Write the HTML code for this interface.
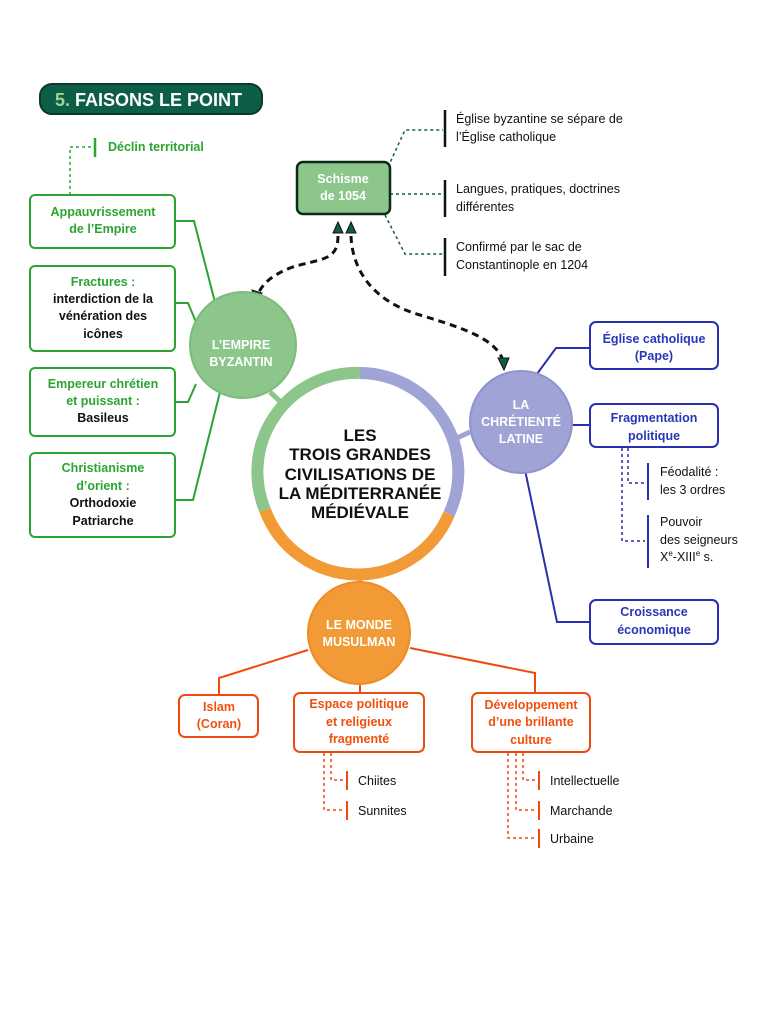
<!DOCTYPE html>
<html><head><meta charset="utf-8"><style>
html,body{margin:0;padding:0;background:#fff;}
svg{display:block;font-family:"Liberation Sans",sans-serif;}
.g{fill:#2ba532;font-weight:bold;font-size:12.5px;}
.b{fill:#2a36b8;font-weight:bold;font-size:12.5px;}
.o{fill:#f0500f;font-weight:bold;font-size:12.5px;}
.k{fill:#111;font-weight:bold;font-size:12.5px;}
.n{fill:#111;font-size:12.5px;}
.w{fill:#fff;font-weight:bold;font-size:12.5px;}
</style></head><body>
<svg width="768" height="1024" viewBox="0 0 768 1024" xmlns="http://www.w3.org/2000/svg">
<!-- title -->
<rect x="40" y="84" width="222" height="30" rx="12" fill="#0d5e46" stroke="#073a2b" stroke-width="2"/>
<text x="55" y="106" font-size="18" font-weight="bold" fill="#fff"><tspan fill="#9fd49a">5.</tspan> FAISONS LE POINT</text>

<!-- Déclin -->
<path d="M70 195 V147 H93" fill="none" stroke="#2ba532" stroke-width="1.5" stroke-dasharray="3,3"/>
<line x1="95" y1="138" x2="95" y2="157" stroke="#2ba532" stroke-width="2.5"/>
<text x="108" y="151" class="g">Déclin territorial</text>

<!-- green connectors -->
<g fill="none" stroke="#2ba532" stroke-width="2">
<path d="M175 221 H194 L217 310"/>
<path d="M175 303 H188 L196 322"/>
<path d="M175 402 H188 L196 384"/>
<path d="M175 500 H193 L220 392"/>
<line x1="270" y1="392" x2="285" y2="406" stroke="#8cc68a" stroke-width="5"/>
</g>
<g fill="#fff" stroke="#2ba532" stroke-width="2">
<rect x="30" y="195" width="145" height="53" rx="5"/>
<rect x="30" y="266" width="145" height="85" rx="5"/>
<rect x="30" y="368" width="145" height="68" rx="5"/>
<rect x="30" y="453" width="145" height="84" rx="5"/>
</g>
<g text-anchor="middle">
<text x="103" y="216" class="g">Appauvrissement</text>
<text x="103" y="233" class="g">de l’Empire</text>
<text x="103" y="286" class="g">Fractures :</text>
<text x="103" y="303" class="k">interdiction de la</text>
<text x="103" y="320" class="k">vénération des</text>
<text x="103" y="338" class="k">icônes</text>
<text x="103" y="388" class="g">Empereur chrétien</text>
<text x="103" y="405" class="g">et puissant :</text>
<text x="103" y="422" class="k">Basileus</text>
<text x="103" y="472" class="g">Christianisme</text>
<text x="103" y="490" class="g">d’orient :</text>
<text x="103" y="507" class="k">Orthodoxie</text>
<text x="103" y="525" class="k">Patriarche</text>
</g>

<!-- Schisme -->
<g fill="none" stroke="#0d5e46" stroke-width="1.5" stroke-dasharray="3,3">
<path d="M388 167 L405 130 H443"/>
<path d="M390 194 H443"/>
<path d="M385 215 L405 254 H443"/>
</g>
<rect x="297" y="162" width="93" height="52" rx="6" fill="#8dc68b" stroke="#0c2a1a" stroke-width="2.5"/>
<text x="343" y="183" text-anchor="middle" class="w" font-size="13">Schisme</text>
<text x="343" y="200" text-anchor="middle" class="w" font-size="13">de 1054</text>
<g stroke="#111" stroke-width="2.5">
<line x1="445" y1="110" x2="445" y2="147"/>
<line x1="445" y1="180" x2="445" y2="217"/>
<line x1="445" y1="238" x2="445" y2="276"/>
</g>
<text x="456" y="123" class="n">Église byzantine se sépare de</text>
<text x="456" y="141" class="n">l’Église catholique</text>
<text x="456" y="193" class="n">Langues, pratiques, doctrines</text>
<text x="456" y="211" class="n">différentes</text>
<text x="456" y="251" class="n">Confirmé par le sac de</text>
<text x="456" y="269" class="n">Constantinople en 1204</text>

<!-- dashed arrows -->
<g fill="none" stroke="#111" stroke-width="3" stroke-dasharray="7,5">
<path d="M338 236 C338 262 320 258 290 268 C270 276 262 285 258 294"/>
<path d="M351 236 C352 265 368 300 420 315 C470 330 495 340 503 360"/>
</g>
<g fill="#0d5e46" stroke="#111" stroke-width="1">
<polygon points="338,222 333,233 343,233"/>
<polygon points="351,222 346,233 356,233"/>
<polygon points="255,302 252,290 262,293"/>
<polygon points="504,370 498,358 509,358"/>
</g>

<!-- central ring -->
<g fill="none" stroke-width="12">
<path d="M360 373 A99 99 0 0 0 265 510" stroke="#8cc68a"/>
<path d="M360 373 A99 99 0 0 1 449 514" stroke="#9fa3d6"/>
<path d="M265 510 A99 99 0 0 0 449 514" stroke="#f29a35"/>
</g>
<g text-anchor="middle" font-weight="bold" font-size="17" fill="#111">
<text x="360" y="441">LES</text>
<text x="360" y="460">TROIS GRANDES</text>
<text x="360" y="480">CIVILISATIONS DE</text>
<text x="360" y="499">LA MÉDITERRANÉE</text>
<text x="360" y="518">MÉDIÉVALE</text>
</g>

<!-- Byzantine circle -->
<circle cx="243" cy="345" r="53" fill="#8cc68a" stroke="#7dbb7b" stroke-width="2"/>
<text x="241" y="349" text-anchor="middle" class="w">L’EMPIRE</text>
<text x="241" y="366" text-anchor="middle" class="w">BYZANTIN</text>

<!-- Latin -->
<g fill="none" stroke="#2a2fb0" stroke-width="2">
<path d="M537 374 L556 348 H590"/>
<path d="M572 425 H590"/>
<path d="M525 470 L557 622 H590"/>
<line x1="457" y1="438" x2="470" y2="432" stroke="#9fa3d6" stroke-width="5"/>
</g>
<g fill="none" stroke="#2a2fb0" stroke-width="1.5" stroke-dasharray="3,3">
<path d="M628 448 V483 H645"/>
<path d="M622 448 V541 H645"/>
</g>
<g stroke="#2a2fb0" stroke-width="2">
<line x1="648" y1="463" x2="648" y2="500"/>
<line x1="648" y1="515" x2="648" y2="568"/>
</g>
<text x="660" y="476" class="n">Féodalité :</text>
<text x="660" y="494" class="n">les 3 ordres</text>
<text x="660" y="526" class="n">Pouvoir</text>
<text x="660" y="544" class="n">des seigneurs</text>
<text x="660" y="561" class="n">X<tspan font-size="8" dy="-5">e</tspan><tspan dy="5">-XIII</tspan><tspan font-size="8" dy="-5">e</tspan><tspan dy="5"> s.</tspan></text>
<circle cx="521" cy="422" r="51" fill="#9fa3d6" stroke="#8f93cc" stroke-width="2"/>
<text x="521" y="409" text-anchor="middle" class="w">LA</text>
<text x="521" y="426" text-anchor="middle" class="w">CHRÉTIENTÉ</text>
<text x="521" y="443" text-anchor="middle" class="w">LATINE</text>
<g fill="#fff" stroke="#2a2fb0" stroke-width="2">
<rect x="590" y="322" width="128" height="47" rx="6"/>
<rect x="590" y="404" width="128" height="43" rx="6"/>
<rect x="590" y="600" width="128" height="44" rx="6"/>
</g>
<g text-anchor="middle">
<text x="654" y="343" class="b">Église catholique</text>
<text x="654" y="360" class="b">(Pape)</text>
<text x="654" y="422" class="b">Fragmentation</text>
<text x="654" y="440" class="b">politique</text>
<text x="654" y="616" class="b">Croissance</text>
<text x="654" y="634" class="b">économique</text>
</g>

<!-- Muslim -->
<line x1="360" y1="570" x2="360" y2="584" stroke="#f29a35" stroke-width="5"/>
<g fill="none" stroke="#f04a10" stroke-width="2">
<path d="M308 650 L219 678 V695"/>
<path d="M410 648 L535 673 V693"/>
<path d="M360 682 V693"/>
</g>
<circle cx="359" cy="633" r="51" fill="#f29a35" stroke="#ee8d25" stroke-width="2"/>
<text x="359" y="629" text-anchor="middle" class="w">LE MONDE</text>
<text x="359" y="646" text-anchor="middle" class="w">MUSULMAN</text>
<g fill="#fff" stroke="#f04a10" stroke-width="2">
<rect x="179" y="695" width="79" height="42" rx="6"/>
<rect x="294" y="693" width="130" height="59" rx="6"/>
<rect x="472" y="693" width="118" height="59" rx="6"/>
</g>
<g text-anchor="middle">
<text x="219" y="711" class="o">Islam</text>
<text x="219" y="728" class="o">(Coran)</text>
<text x="359" y="708" class="o">Espace politique</text>
<text x="359" y="726" class="o">et religieux</text>
<text x="359" y="743" class="o">fragmenté</text>
<text x="531" y="709" class="o">Développement</text>
<text x="531" y="726" class="o">d’une brillante</text>
<text x="531" y="744" class="o">culture</text>
</g>
<g fill="none" stroke="#f04a10" stroke-width="1.5" stroke-dasharray="3,3">
<path d="M331 753 V780 H345"/>
<path d="M324 753 V810 H345"/>
<path d="M523 753 V780 H537"/>
<path d="M516 753 V810 H537"/>
<path d="M508 753 V838 H537"/>
</g>
<g stroke="#f04a10" stroke-width="2">
<line x1="347" y1="771" x2="347" y2="790"/>
<line x1="347" y1="801" x2="347" y2="820"/>
<line x1="539" y1="771" x2="539" y2="790"/>
<line x1="539" y1="801" x2="539" y2="820"/>
<line x1="539" y1="829" x2="539" y2="848"/>
</g>
<text x="358" y="785" class="n">Chiites</text>
<text x="358" y="815" class="n">Sunnites</text>
<text x="550" y="785" class="n">Intellectuelle</text>
<text x="550" y="815" class="n">Marchande</text>
<text x="550" y="843" class="n">Urbaine</text>
</svg>
</body></html>
